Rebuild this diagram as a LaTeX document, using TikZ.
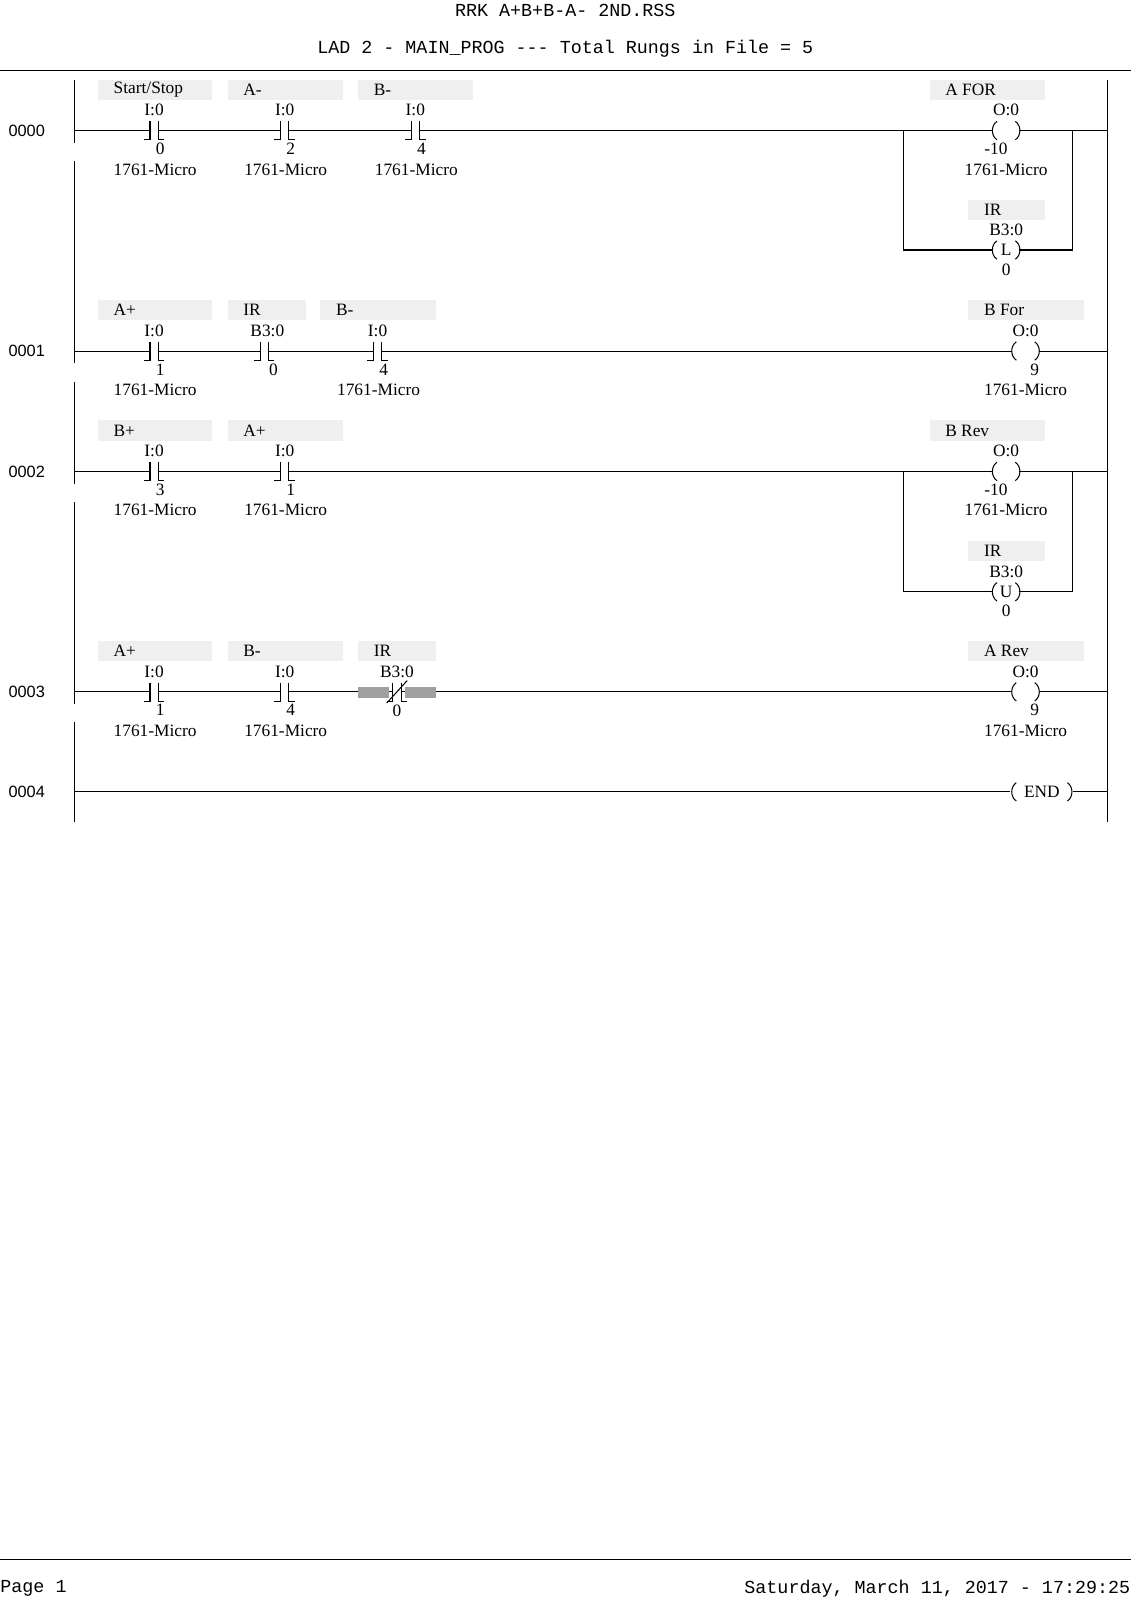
\documentclass[tikz,border=0pt]{standalone}
\usepackage{fontspec}
\setmainfont{Liberation Serif}
\newfontfamily\monof{Liberation Mono}
\newfontfamily\sansf{Liberation Sans}
\definecolor{tagbg}{HTML}{EFEFEF}
\definecolor{hl}{HTML}{A0A0A0}
\tikzset{
  lbl/.style={inner sep=0pt,font=\fontsize{8.5}{10}\selectfont},
  hdr/.style={inner sep=0pt,font=\monof\fontsize{9}{11}\selectfont},
  rnum/.style={inner sep=0pt,anchor=west,font=\sansf\fontsize{8}{10}\selectfont},
  wire/.style={line width=0.5pt},
}
% contact: c, y, addr, addrx-offset, bit, module, boxL, boxR, tag
\newcommand{\mycontact}[9]{%
  \fill[tagbg] (#7,#2-50) rectangle (#8,#2-30);
  \node[lbl,anchor=west] at (#7+15,#2-40) {#9};
  \node[lbl] at (#1+#4,#2-20) {#3};
  \node[lbl] at (#1+#4+6,#2+18) {#5};
  \node[lbl] at (#1+1,#2+38) {#6};
  \fill[white] (#1-4,#2-2) rectangle (#1+4,#2+2);
  \draw[wire] (#1-4,#2-9) -- (#1-4,#2+9) -- (#1-10,#2+9);
  \draw[wire] (#1+4,#2-9) -- (#1+4,#2+9) -- (#1+10,#2+9);
}
% coil: c, y, letter, addr, bit, module, boxL, boxR, tag
\newcommand{\mycoil}[9]{%
  \fill[tagbg] (#7,#2-50) rectangle (#8,#2-30);
  \node[lbl,anchor=west] at (#7+15,#2-40) {#9};
  \node[lbl] at (#1,#2-20) {#4};
  \node[lbl] at (#1+#5,#2+18) {\ifnum#5=0 0\else #5\fi};
  \node[lbl] at (#1,#2+38) {#6};
  \fill[white] (#1-13,#2-2) rectangle (#1+13,#2+2);
  \draw[wire] (#1-9,#2-9) .. controls (#1-15,#2-5) and (#1-15,#2+5) .. (#1-9,#2+9);
  \draw[wire] (#1+9,#2-9) .. controls (#1+15,#2-5) and (#1+15,#2+5) .. (#1+9,#2+9);
  \node[lbl] at (#1,#2) {#3};
}
\begin{document}
\begin{tikzpicture}[x=0.5pt,y=-0.5pt]
\useasboundingbox (0,0) rectangle (1108,1568);
\node[hdr] (t1) at (554,10) {RRK A+B+B-A- 2ND.RSS};
\node[hdr] (t2) at (554,48) {LAD 2 - MAIN\_PROG --- Total Rungs in File = 5};
\draw[wire] (0,69) -- (1108,69);
% rails
\draw[wire] (73,78) -- (73,140) (73,158) -- (73,356) (73,374) -- (73,474) (73,492) -- (73,690) (73,708) -- (73,806);
\draw[wire] (1085,78) -- (1085,806);
% rung lines
\foreach \y in {128,344,462,678,776} \draw[wire] (73,\y) -- (1085,\y);
\node[rnum] (r0) at (8,128) {0000};
\node[rnum] (r1) at (8,344) {0001};
\node[rnum] (r2) at (8,462) {0002};
\node[rnum] (r3) at (8,678) {0003};
\node[rnum] (r4) at (8,776) {0004};
% branches
\draw[wire] (885,128) -- (885,245) -- (1051,245) -- (1051,128);
\draw[wire] (885,462) -- (885,580) -- (1051,580) -- (1051,462);
% rung 0
\mycontact{151}{128}{I:0}{0}{0}{1761-Micro}{96}{208}{Start/Stop}
\mycontact{279}{128}{I:0}{0}{2}{1761-Micro}{223}{336}{A-}
\mycontact{407}{128}{I:0}{0}{4}{1761-Micro}{351}{464}{B-}
\mycoil{986}{128}{}{O:0}{-10}{1761-Micro}{911}{1024}{A FOR}
\fill[tagbg] (949,196) rectangle (1024,216);
\node[lbl,anchor=west] at (964,206) {IR};
\node[lbl] at (986,225) {B3:0};
\node[lbl] at (986,264) {0};
\fill[white] (973,243) rectangle (999,247);
\draw[wire] (977,236) .. controls (971,240) and (971,250) .. (977,254);
\draw[wire] (995,236) .. controls (1001,240) and (1001,250) .. (995,254);
\node[lbl] at (986,245) {L};
% rung 1
\mycontact{151}{344}{I:0}{0}{1}{1761-Micro}{96}{208}{A+}
\mycontact{259}{344}{B3:0}{3}{0}{}{223}{300}{IR}
\mycontact{370}{344}{I:0}{0}{4}{1761-Micro}{314}{427}{B-}
\mycoil{1005}{344}{}{O:0}{9}{1761-Micro}{949}{1062}{B For}
% rung 2
\mycontact{151}{462}{I:0}{0}{3}{1761-Micro}{96}{208}{B+}
\mycontact{279}{462}{I:0}{0}{1}{1761-Micro}{223}{336}{A+}
\mycoil{986}{462}{}{O:0}{-10}{1761-Micro}{911}{1024}{B Rev}
\fill[tagbg] (949,530) rectangle (1024,550);
\node[lbl,anchor=west] at (964,540) {IR};
\node[lbl] at (986,560) {B3:0};
\node[lbl] at (986,599) {0};
\fill[white] (973,578) rectangle (999,582);
\draw[wire] (977,571) .. controls (971,575) and (971,585) .. (977,589);
\draw[wire] (995,571) .. controls (1001,575) and (1001,585) .. (995,589);
\node[lbl] at (986,580) {U};
% rung 3
\mycontact{151}{678}{I:0}{0}{1}{1761-Micro}{96}{208}{A+}
\mycontact{279}{678}{I:0}{0}{4}{1761-Micro}{223}{336}{B-}
\fill[tagbg] (351,628) rectangle (427,648);
\node[lbl,anchor=west] at (366,638) {IR};
\node[lbl] at (389,658) {B3:0};
\node[lbl] at (389,697) {0};
\fill[hl] (351,673) rectangle (381,684);
\fill[hl] (397,673) rectangle (427,684);
\fill[white] (385,676) rectangle (393,680);
\draw[wire] (385,669) -- (385,687) -- (379,687);
\draw[wire] (393,669) -- (393,687) -- (399,687);
\draw[wire] (379,689) -- (399,667);
\mycoil{1005}{678}{}{O:0}{9}{1761-Micro}{949}{1062}{A Rev}
% rung 4
\fill[white] (990,774) rectangle (1052,778);
\draw[wire] (996,767) .. controls (990,771) and (990,781) .. (996,785);
\draw[wire] (1046,767) .. controls (1052,771) and (1052,781) .. (1046,785);
\node[lbl] (endc) at (1021,776) {END};
% footer
\draw[wire] (0,1528) -- (1108,1528);
\node[hdr,anchor=west] (pg) at (0,1557) {Page 1};
\node[hdr,anchor=east] (dt) at (1108,1557) {Saturday, March 11, 2017 - 17:29:25};
\end{tikzpicture}
\end{document}
